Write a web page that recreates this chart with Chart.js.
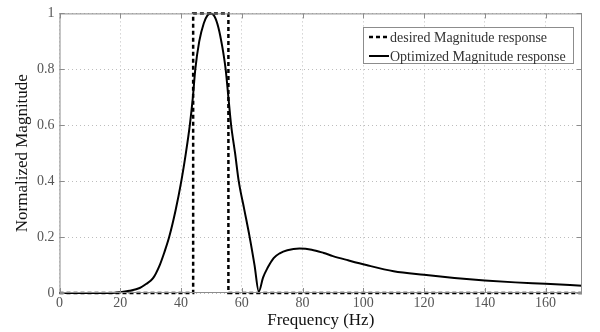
<!DOCTYPE html>
<html>
<head>
<meta charset="utf-8">
<script src="https://cdn.jsdelivr.net/npm/chart.js@4"></script>
<style>
  html, body { margin: 0; padding: 0; background: #fff; }
  #wrap { width: 600px; height: 332px; }
</style>
</head>
<body>
<div id="wrap"><canvas id="c" width="600" height="332"></canvas></div>
<script>
// desired (ideal band-pass) response
const desiredHz = [0, 44, 44, 55.6, 55.6, 172];
const desiredMag = [0, 0, 1, 1, 0, 0];

// optimized response
const optHz = [0, 15, 20, 23, 26.4, 28.5, 30.8, 33, 34.5, 36.1, 38.2, 40.1, 41.6, 42.9, 43.9, 44.7, 46, 47.5, 48.7, 49.75,
  51, 52.3, 53.6, 54.7, 55.6, 56.5, 57.8, 59, 60.8, 62.6, 64.2, 65.6, 67, 68.5, 70.5, 72.5, 75, 79, 83, 87, 90, 95, 101,
  110, 120, 130, 140, 150, 160, 172];
const optMag = [0, 0, 0.003, 0.008, 0.018, 0.032, 0.053, 0.1, 0.145, 0.2, 0.295, 0.4, 0.5, 0.6, 0.7, 0.8, 0.9, 0.965, 0.993, 1.0,
  0.99, 0.95, 0.88, 0.8, 0.7, 0.6, 0.5, 0.4, 0.3, 0.2, 0.1, 0.005, 0.055, 0.09, 0.125, 0.142, 0.153, 0.159, 0.155, 0.143, 0.132, 0.117, 0.1,
  0.078, 0.065, 0.054, 0.045, 0.038, 0.033, 0.026];

const seriesNames = ['desired Magnitude response', 'Optimized Magnitude response'];
const xTicks = [0, 20, 40, 60, 80, 100, 120, 140, 160];
const yTicks = [0, 0.2, 0.4, 0.6, 0.8, 1];
const xMax = 172;

const serif = "'Liberation Serif', 'DejaVu Serif', serif";
const toPts = (xs, ys) => xs.map((x, i) => ({ x: x, y: ys[i] }));

// boite autour du graphe + petites graduations vers l'interieur (style matlab)
const boxPlugin = {
  id: 'box',
  afterDatasetsDraw(chart) {
    const { ctx, chartArea: a, scales } = chart;
    ctx.save();
    ctx.strokeStyle = '#8c8c8c';
    ctx.lineWidth = 1;
    ctx.strokeRect(a.left + 0.5, a.top + 0.5, a.right - a.left - 1, a.bottom - a.top - 1);
    ctx.beginPath();
    scales.x.ticks.forEach(t => {
      const px = Math.round(scales.x.getPixelForValue(t.value)) + 0.5;
      ctx.moveTo(px, a.bottom); ctx.lineTo(px, a.bottom - 5);
      ctx.moveTo(px, a.top); ctx.lineTo(px, a.top + 5);
    });
    scales.y.ticks.forEach(t => {
      const py = Math.round(scales.y.getPixelForValue(t.value)) + 0.5;
      ctx.moveTo(a.left, py); ctx.lineTo(a.left + 5, py);
      ctx.moveTo(a.right, py); ctx.lineTo(a.right - 5, py);
    });
    ctx.stroke();
    ctx.restore();
  },
  afterDraw(chart) {
    // legende dans le coin haut droit
    const { ctx } = chart;
    const x0 = 363, y0 = 27, w = 210, h = 36;
    ctx.save();
    ctx.fillStyle = '#fff';
    ctx.fillRect(x0, y0, w, h);
    ctx.strokeStyle = '#8c8c8c';
    ctx.lineWidth = 1;
    ctx.strokeRect(x0 + 0.5, y0 + 0.5, w, h);
    ctx.font = '14px ' + serif;
    ctx.textBaseline = 'middle';
    chart.data.datasets.forEach((ds, i) => {
      const cy = y0 + 10 + i * 19;
      ctx.strokeStyle = '#000';
      ctx.lineWidth = ds.borderWidth;
      ctx.setLineDash(ds.borderDash || []);
      ctx.beginPath();
      ctx.moveTo(x0 + 6, cy); ctx.lineTo(x0 + 26, cy);
      ctx.stroke();
      ctx.setLineDash([]);
      ctx.fillStyle = '#333';
      ctx.fillText(ds.label, x0 + 27, cy + 1);
    });
    ctx.restore();
  }
};

new Chart(document.getElementById('c'), {
  type: 'scatter',
  data: {
    datasets: [
      { label: seriesNames[0], data: toPts(desiredHz, desiredMag), showLine: true, borderColor: '#000',
        borderWidth: 2.5, borderDash: [4, 3], pointRadius: 0, tension: 0, clip: 4 },
      { label: seriesNames[1], data: toPts(optHz, optMag), showLine: true, borderColor: '#000',
        borderWidth: 2, pointRadius: 0, cubicInterpolationMode: 'monotone', clip: 4 }
    ]
  },
  options: {
    responsive: false,
    animation: false,
    layout: { autoPadding: false, padding: { top: 10, right: 18, left: 0, bottom: 0 } },
    plugins: { legend: { display: false }, tooltip: { enabled: false } },
    scales: {
      x: {
        type: 'linear', min: 0, max: xMax,
        afterFit: s => { s.height = 39; },
        afterBuildTicks: s => { s.ticks = xTicks.map(v => ({ value: v })); },
        grid: { color: '#bdbdbd', drawTicks: false },
        border: { display: false, dash: [1, 3] },
        ticks: { padding: 2, color: '#555', font: { family: serif, size: 14 } },
        title: { display: true, text: 'Frequency (Hz)', color: '#111', padding: { bottom: 1 },
          font: { family: serif, size: 17 } }
      },
      y: {
        min: 0, max: 1,
        afterFit: s => { s.width = 59.5; },
        afterBuildTicks: s => { s.ticks = yTicks.map(v => ({ value: v })); },
        grid: { color: '#bdbdbd', drawTicks: false },
        border: { display: false, dash: [1, 3] },
        ticks: { padding: 5, color: '#555', font: { family: serif, size: 14 }, callback: v => String(v) },
        title: { display: true, text: 'Normalized Magnitude', color: '#111', padding: { top: 12 },
          font: { family: serif, size: 17 } }
      }
    }
  },
  plugins: [boxPlugin]
});
</script>
</body>
</html>
